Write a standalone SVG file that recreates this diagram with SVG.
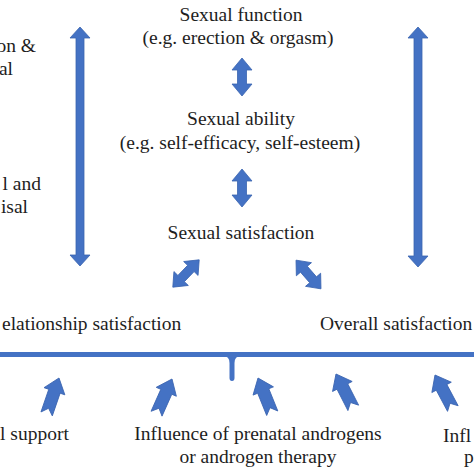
<svg xmlns="http://www.w3.org/2000/svg" width="474" height="474" viewBox="0 0 474 474">
<style>
.t{font-family:'Liberation Serif','DejaVu Serif',serif;font-size:19.5px;fill:#1e1e1e}
.c{text-anchor:middle}
.e{text-anchor:end}
.a{fill:#4472C4;stroke:#3a64b0;stroke-width:0.8;stroke-linejoin:miter}
</style>
<defs>
<path id="dbl" d="M0,-19 L10,-7 L4.5,-7 L4.5,7 L10,7 L0,19 L-10,7 L-4.5,7 L-4.5,-7 L-10,-7 Z"/>
<path id="up" d="M0,0 L11,14 L6,14 L6,38 L0,32 L-6,38 L-6,14 L-11,14 Z"/>
</defs>
<rect width="474" height="474" fill="#ffffff"/>
<g id="n_function"><text class="t c" x="241" y="21">Sexual function</text><text class="t c" x="238" y="44">(e.g. erection &amp; orgasm)</text></g>
<g id="n_ability"><text class="t c" x="241" y="125">Sexual ability</text><text class="t c" x="240" y="149">(e.g. self-efficacy, self-esteem)</text></g>
<g id="n_satisfaction"><text class="t c" x="241" y="239">Sexual satisfaction</text></g>
<g id="n_left1"><text class="t e" x="36" y="52">on &amp;</text><text class="t e" x="13" y="75">al</text></g>
<g id="n_left2"><text class="t e" x="41" y="190">l and</text><text class="t e" x="28" y="213">isal</text></g>
<g id="n_relationship"><text class="t" x="2" y="330">elationship satisfaction</text></g>
<g id="n_overall"><text class="t" x="320" y="330">Overall satisfaction</text></g>
<g id="n_support"><text class="t" x="0" y="440">l support</text></g>
<g id="n_prenatal"><text class="t c" x="258" y="440">Influence of prenatal androgens</text><text class="t c" x="258" y="463">or androgen therapy</text></g>
<g id="n_right"><text class="t" x="443" y="442">Infl</text><text class="t" x="464" y="463">p</text></g>
<g id="connectors">
<path class="a" d="M80,27 L90,38 L84,38 L84,255 L90,255 L80,266 L70,255 L76,255 L76,38 L70,38 Z"/>
<path class="a" d="M418,27 L428,38 L422,38 L422,256 L428,256 L418,267 L408,256 L414,256 L414,38 L408,38 Z"/>
<use href="#dbl" class="a" transform="translate(242,77)"/>
<use href="#dbl" class="a" transform="translate(242,188)"/>
<use href="#dbl" class="a" transform="translate(186,273.5) rotate(44)"/>
<use href="#dbl" class="a" transform="translate(308.5,274.5) rotate(-41)"/>
<rect x="0" y="352" width="474" height="5" fill="#4472C4"/>
<path fill="#4472C4" d="M223,356 Q229.5,356 229.5,363 V378 Q229.5,381 232,381 Q234.5,381 234.5,378 V363 Q234.5,356 241,356 Z"/>
<use href="#up" class="a" transform="translate(59,378) rotate(19)"/>
<use href="#up" class="a" transform="translate(172,379) rotate(24)"/>
<use href="#up" class="a" transform="translate(258,378) rotate(-22)"/>
<use href="#up" class="a" transform="translate(336,374) rotate(-27)"/>
<use href="#up" class="a" transform="translate(435,375) rotate(-28)"/>
</g>
</svg>
